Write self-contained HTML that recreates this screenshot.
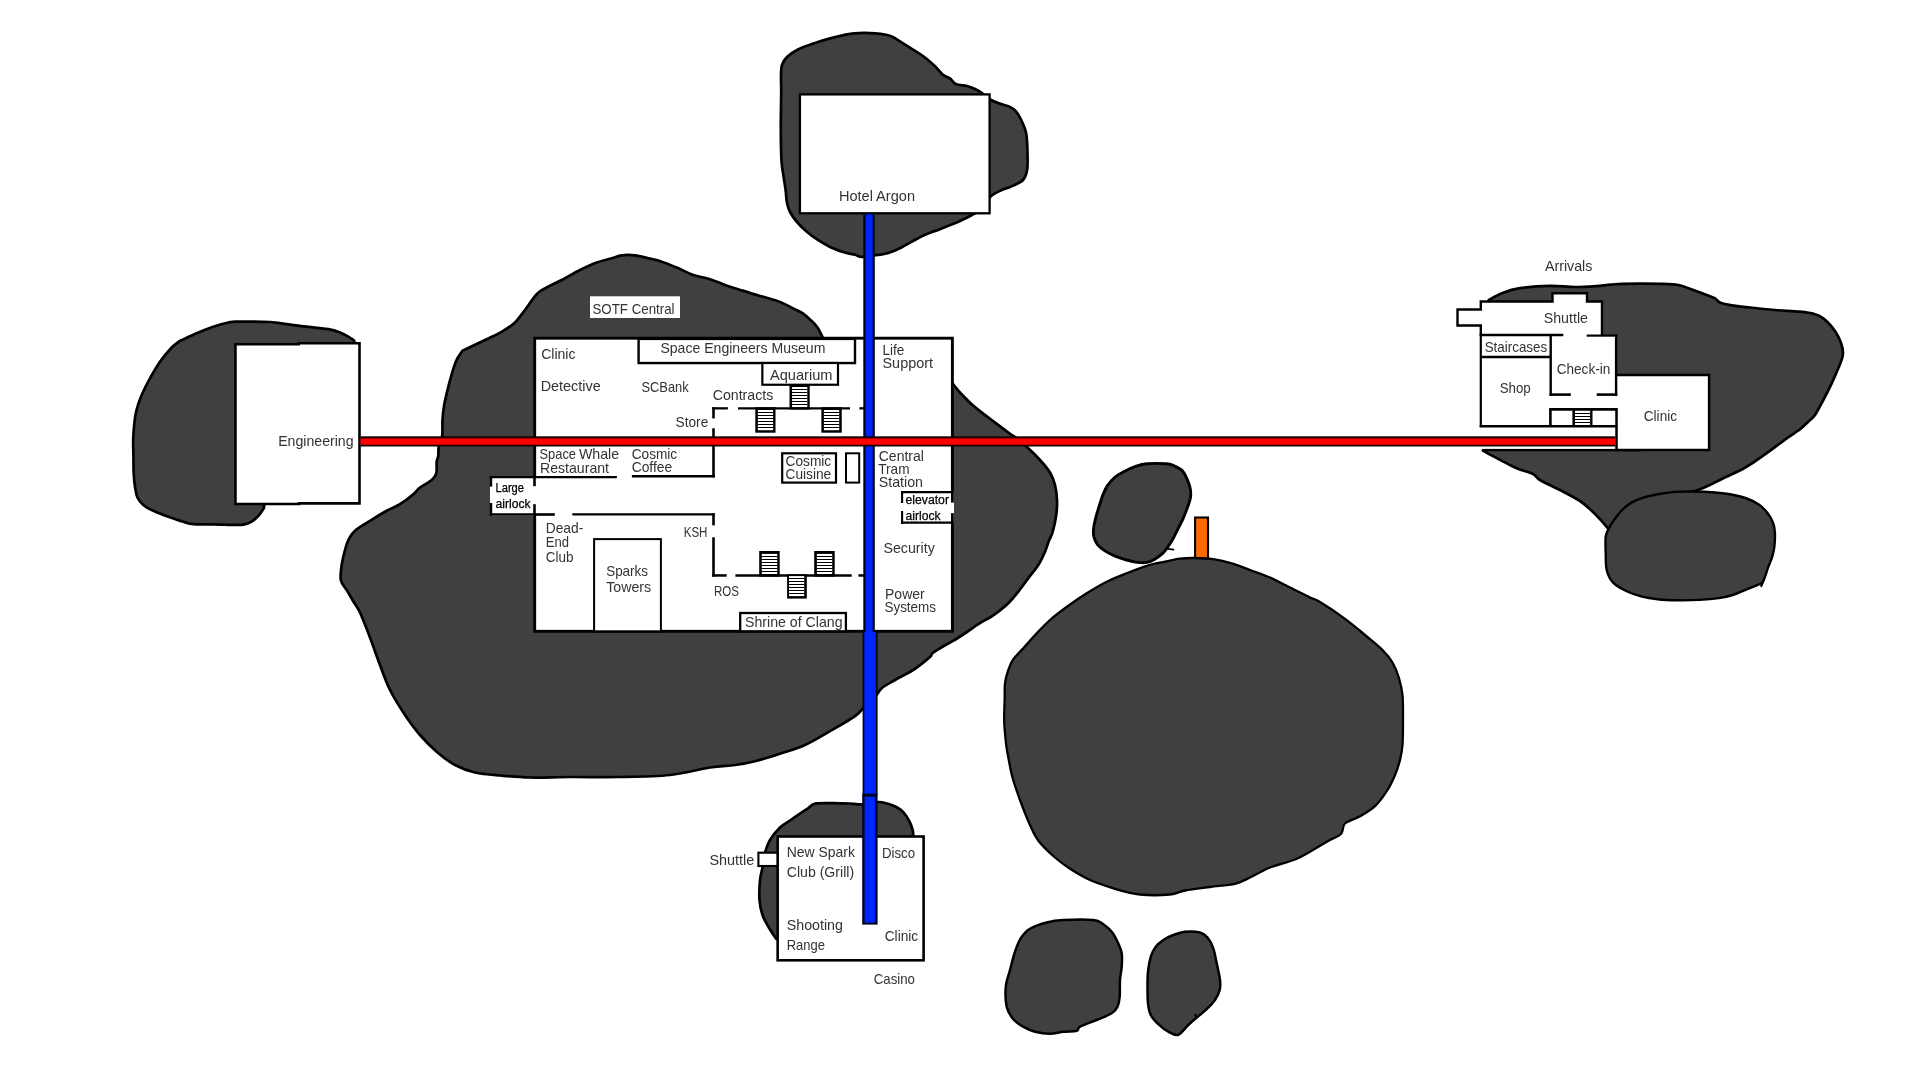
<!DOCTYPE html>
<html><head><meta charset="utf-8"><title>SOTF Station Map</title>
<style>
html,body{margin:0;padding:0;background:#fff;}
body{width:1920px;height:1080px;overflow:hidden;}
svg{display:block;font-family:"Liberation Sans",sans-serif;will-change:transform;}
</style></head><body>
<svg width="1920" height="1080" viewBox="0 0 1920 1080">
<rect width="1920" height="1080" fill="#fff"/>
<path d="M781.2,90.0C781.2,81.8 780.9,80.2 781.0,76.0C781.1,71.8 781.0,68.2 782.0,65.0C783.0,61.8 784.3,59.6 787.0,57.0C789.7,54.4 793.3,51.8 798.0,49.5C802.7,47.2 809.2,45.0 815.0,43.0C820.8,41.0 826.5,39.2 833.0,37.6C839.5,36.0 846.9,34.1 854.0,33.4C861.1,32.7 869.3,32.9 875.5,33.4C881.7,33.9 886.1,34.3 891.0,36.2C895.9,38.1 899.7,41.3 905.0,44.6C910.3,47.9 918.1,52.5 923.0,56.0C927.9,59.5 931.2,62.6 934.5,65.7C937.8,68.8 940.4,72.7 943.0,74.8C945.6,76.9 947.9,76.9 950.0,78.4C952.1,79.9 952.8,82.7 955.6,84.0C958.4,85.3 963.8,85.2 967.0,86.0C970.2,86.8 972.5,87.8 975.0,89.0C977.5,90.2 979.5,91.2 982.0,93.0C984.5,94.8 987.3,97.8 990.0,99.5C992.7,101.2 994.8,101.8 998.0,103.0C1001.2,104.2 1006.0,105.1 1009.0,106.5C1012.0,107.9 1013.9,109.0 1016.0,111.4C1018.1,113.8 1020.0,117.5 1021.7,121.0C1023.4,124.5 1025.1,128.2 1026.0,132.5C1026.9,136.8 1027.1,140.6 1027.3,146.6C1027.5,152.6 1028.0,162.9 1027.3,168.5C1026.6,174.1 1025.7,177.0 1023.0,180.0C1020.3,183.0 1014.7,184.8 1011.0,186.6C1007.3,188.3 1004.2,188.8 1000.7,190.5C997.2,192.2 992.6,194.2 990.0,197.0C987.4,199.8 988.0,204.0 985.0,207.0C982.0,210.0 976.2,212.7 972.0,215.0C967.8,217.3 963.9,219.2 960.0,221.0C956.1,222.8 952.2,224.2 948.8,225.6C945.3,227.0 942.5,228.2 939.4,229.4C936.3,230.6 933.1,231.4 930.0,232.7C926.9,233.9 923.7,235.3 920.6,236.9C917.5,238.5 914.4,240.3 911.2,242.0C908.1,243.7 905.0,245.6 901.9,247.2C898.8,248.8 895.6,250.2 892.5,251.4C889.4,252.6 886.0,253.6 883.0,254.2C880.0,254.8 878.3,254.8 874.7,255.2C871.1,255.6 864.9,256.8 861.6,256.8C858.3,256.7 857.7,255.4 855.0,254.7C852.3,254.0 849.7,254.1 845.6,252.8C841.5,251.6 835.3,249.4 830.6,247.2C825.9,245.0 821.6,242.4 817.5,239.7C813.4,237.0 809.7,234.2 806.2,231.2C802.8,228.3 799.7,225.1 797.0,222.0C794.3,218.9 792.0,215.7 790.3,212.5C788.6,209.3 787.8,206.8 787.0,203.0C786.2,199.2 786.2,194.5 785.6,190.0C785.0,185.5 784.2,180.9 783.5,176.0C782.8,171.1 782.0,169.2 781.5,160.7C781.0,152.2 780.8,136.8 780.8,125.0C780.8,113.2 781.2,98.2 781.2,90.0Z" fill="#404040" stroke="#000" stroke-width="2.7" stroke-linejoin="round" stroke-linecap="round"/>
<path d="M180.0,340.8C182.8,339.6 191.1,335.7 196.7,333.3C202.2,330.9 208.0,328.5 213.3,326.7C218.6,324.9 224.4,323.3 228.3,322.5C232.2,321.7 229.8,321.8 236.7,321.7C243.6,321.6 261.7,321.6 270.0,322.0C278.3,322.4 281.1,323.5 286.7,324.2C292.2,324.9 296.4,325.5 303.3,326.3C310.2,327.1 322.2,328.2 328.3,329.2C334.4,330.2 336.7,331.2 340.0,332.5C343.3,333.8 345.9,335.3 348.3,336.7C350.7,338.1 353.2,340.0 354.2,340.6L355.0,346.0L350.0,400.0L300.0,500.0L265.0,500.0L263.8,508.3C262.9,509.6 260.3,513.6 258.3,515.8C256.3,518.0 254.2,520.2 251.7,521.7C249.2,523.2 246.6,524.2 243.3,524.7C240.0,525.2 236.7,524.9 231.7,524.8C226.7,524.7 219.7,524.4 213.3,524.3C206.9,524.2 198.3,524.6 193.3,524.2C188.3,523.8 187.5,523.0 183.3,521.7C179.1,520.5 173.3,518.5 168.3,516.7C163.3,514.9 157.5,512.8 153.3,510.8C149.1,508.9 145.9,507.2 143.3,505.0C140.7,502.8 138.9,500.6 137.5,497.5C136.1,494.4 135.6,490.7 135.0,486.7C134.4,482.7 134.0,478.6 133.7,473.3C133.4,468.0 133.5,461.1 133.4,455.0C133.3,448.9 132.9,443.6 133.3,436.7C133.7,429.8 134.4,420.2 135.8,413.3C137.2,406.4 139.3,400.8 141.7,395.0C144.1,389.2 146.9,383.9 150.0,378.3C153.1,372.8 156.4,366.8 160.0,361.7C163.6,356.6 168.4,351.0 171.7,347.5C175.0,344.0 178.6,341.9 180.0,340.8Z" fill="#404040" stroke="#000" stroke-width="2.7" stroke-linejoin="round" stroke-linecap="round"/>
<path d="M462.5,350.8C466.5,348.9 479.9,342.5 486.7,339.2C493.5,335.9 498.6,333.6 503.3,330.8C508.0,328.0 511.4,326.0 515.0,322.5C518.6,319.0 521.4,314.7 525.0,310.0C528.6,305.3 533.1,297.9 536.7,294.2C540.3,290.4 542.3,290.0 546.7,287.5C551.1,285.0 557.8,282.1 563.3,279.2C568.8,276.3 574.4,272.8 580.0,270.0C585.6,267.2 591.4,264.4 596.7,262.5C602.0,260.6 607.5,259.5 611.7,258.3C615.9,257.1 617.8,255.8 621.7,255.3C625.6,254.8 630.6,254.8 635.0,255.3C639.4,255.8 643.8,257.2 648.3,258.3C652.8,259.4 657.0,260.2 661.7,261.7C666.4,263.2 671.4,265.3 676.7,267.5C682.0,269.7 687.8,273.1 693.3,275.0C698.8,276.9 704.7,277.5 710.0,279.2C715.3,280.9 719.6,283.1 725.0,285.0C730.4,286.9 736.5,288.7 742.5,290.6C748.5,292.5 755.0,294.4 761.2,296.2C767.5,298.1 774.8,299.9 780.0,301.9C785.2,303.9 788.8,306.2 792.5,308.1C796.2,310.0 799.4,311.0 802.5,313.1C805.6,315.2 808.8,318.2 811.2,320.6C813.8,323.0 815.6,324.8 817.5,327.5C819.4,330.2 821.1,334.1 822.5,337.0C823.9,339.9 825.4,343.7 826.0,345.0L900.0,360.0L950.0,381.0C950.6,381.7 952.1,383.1 953.8,385.0C955.4,386.9 956.9,389.2 960.0,392.5C963.1,395.8 967.5,400.6 972.5,405.0C977.5,409.4 983.8,414.0 990.0,418.8C996.2,423.5 1005.8,430.7 1010.0,433.8C1014.2,436.8 1012.1,434.7 1015.0,437.0C1017.9,439.3 1023.3,443.7 1027.5,447.5C1031.7,451.3 1036.2,455.8 1040.0,460.0C1043.8,464.2 1047.5,468.3 1050.0,472.5C1052.5,476.7 1053.8,480.4 1055.0,485.0C1056.2,489.6 1056.8,495.0 1057.0,500.0C1057.2,505.0 1057.0,509.6 1056.2,515.0C1055.5,520.4 1053.7,528.3 1052.5,532.5C1051.3,536.7 1050.5,536.8 1049.2,540.0C1048.0,543.2 1046.8,547.5 1045.0,551.7C1043.2,555.9 1041.1,560.6 1038.3,565.0C1035.5,569.4 1031.6,573.8 1028.3,578.3C1025.0,582.8 1021.6,587.5 1018.3,591.7C1015.0,595.9 1011.6,600.0 1008.3,603.3C1005.0,606.6 1001.3,609.3 998.3,611.7C995.2,614.1 993.3,615.5 990.0,617.5C986.7,619.5 982.7,621.2 978.8,623.8C974.8,626.2 970.6,629.6 966.2,632.5C961.9,635.4 956.7,638.8 952.5,641.2C948.3,643.8 944.6,645.5 941.2,647.5C937.9,649.5 934.4,651.5 932.5,653.1C930.6,654.7 932.9,654.4 930.0,657.0C927.1,659.6 920.8,664.9 915.0,668.8C909.2,672.6 900.4,676.9 895.0,680.0C889.6,683.1 885.5,685.1 882.5,687.5C879.5,689.9 877.9,693.3 877.0,694.5L862.5,708.8C861.2,710.0 860.4,712.5 855.0,716.2C849.6,720.0 838.3,726.5 830.0,731.2C821.7,736.0 813.3,741.2 805.0,745.0C796.7,748.8 788.3,751.0 780.0,753.8C771.7,756.5 762.5,759.4 755.0,761.2C747.5,763.1 742.5,764.0 735.0,765.0C727.5,766.0 720.8,765.8 710.0,767.5C699.2,769.2 685.0,773.4 670.0,775.0C655.0,776.6 636.7,776.7 620.0,777.0C603.3,777.3 585.0,776.9 570.0,777.0C555.0,777.1 541.7,777.8 530.0,777.5C518.3,777.2 509.2,776.3 500.0,775.5C490.8,774.7 482.5,774.2 475.0,772.5C467.5,770.8 461.2,768.3 455.0,765.0C448.8,761.7 443.3,757.5 437.5,752.5C431.7,747.5 425.4,741.2 420.0,735.0C414.6,728.8 410.0,722.5 405.0,715.0C400.0,707.5 394.2,698.3 390.0,690.0C385.8,681.7 383.3,673.8 380.0,665.0C376.7,656.2 373.3,646.2 370.0,637.5C366.7,628.8 362.9,618.8 360.0,612.5C357.1,606.2 354.7,603.8 352.5,600.0C350.3,596.2 348.6,593.3 346.7,590.0C344.8,586.7 341.6,584.2 340.8,580.0C340.0,575.8 341.0,570.0 341.7,565.0C342.4,560.0 343.8,554.5 345.0,550.0C346.2,545.5 347.4,541.6 349.2,538.3C351.0,535.0 352.3,532.9 355.8,530.0C359.3,527.1 364.9,524.0 370.0,520.8C375.1,517.6 381.7,513.6 386.7,510.8C391.7,508.0 395.6,507.0 400.0,504.2C404.4,501.4 410.0,497.0 413.3,494.2C416.6,491.4 416.9,489.9 420.0,487.5C423.1,485.1 429.0,482.4 431.7,480.0C434.4,477.6 435.5,476.4 436.3,473.3C437.1,470.2 436.4,464.6 436.7,461.7C437.0,458.8 438.0,458.3 438.3,455.8C438.6,453.3 438.1,450.0 438.7,446.7C439.3,443.4 441.6,440.2 442.2,435.8C442.8,431.4 442.2,425.1 442.5,420.0C442.8,414.9 443.1,411.1 444.2,405.0C445.3,398.9 447.3,390.5 449.2,383.3C451.1,376.1 453.6,367.1 455.8,361.7C458.0,356.3 461.4,352.6 462.5,350.8Z" fill="#404040" stroke="#000" stroke-width="2.7" stroke-linejoin="round" stroke-linecap="round"/>
<path d="M1147.0,463.7C1152.0,463.3 1161.9,463.4 1166.3,463.7C1170.7,464.0 1170.8,464.3 1173.5,465.5C1176.2,466.7 1180.3,468.5 1182.6,470.9C1184.9,473.3 1186.1,476.8 1187.4,479.9C1188.7,483.0 1189.9,486.5 1190.4,489.5C1190.9,492.5 1190.9,495.0 1190.4,498.0C1189.9,501.0 1188.6,504.2 1187.4,507.6C1186.2,511.0 1184.9,514.6 1183.2,518.4C1181.5,522.2 1179.0,526.9 1177.2,530.5C1175.4,534.1 1173.9,537.3 1172.3,540.1C1170.7,542.9 1169.1,545.1 1167.5,547.3C1165.9,549.5 1164.9,551.4 1162.7,553.4C1160.5,555.4 1156.9,557.9 1154.3,559.4C1151.7,560.9 1149.8,561.9 1147.0,562.4C1144.2,562.9 1140.8,562.8 1137.4,562.4C1134.0,562.0 1130.4,561.1 1126.6,560.0C1122.8,558.9 1118.1,557.3 1114.5,555.8C1110.9,554.3 1107.7,552.7 1104.9,550.9C1102.1,549.1 1099.5,547.1 1097.7,544.9C1095.9,542.7 1094.8,540.3 1094.1,537.7C1093.4,535.1 1093.2,532.7 1093.5,529.3C1093.8,525.9 1094.9,521.2 1095.9,517.2C1096.9,513.2 1098.3,509.0 1099.5,505.2C1100.7,501.4 1101.8,497.6 1103.1,494.4C1104.4,491.2 1105.4,488.7 1107.3,485.9C1109.2,483.1 1111.7,479.9 1114.5,477.5C1117.3,475.1 1120.6,473.4 1124.2,471.5C1127.8,469.6 1132.4,467.4 1136.2,466.1C1140.0,464.8 1142.0,464.1 1147.0,463.7Z" fill="#404040" stroke="#000" stroke-width="2.9" stroke-linejoin="round" stroke-linecap="round"/>
<path d="M1166.5,548.6L1173.5,549.6" stroke="#000" stroke-width="1.8" fill="none" stroke-linecap="round"/>
<rect x="1195.1" y="517.5" width="12.9" height="42.5" fill="#FF6A00" stroke="#000" stroke-width="2.1"/>
<path d="M1005.0,683.3C1005.6,678.6 1006.9,674.0 1008.3,670.0C1009.7,666.0 1010.8,662.8 1013.3,659.2C1015.8,655.6 1019.4,652.6 1023.3,648.3C1027.2,644.0 1032.2,638.0 1036.7,633.3C1041.2,628.6 1044.7,624.6 1050.0,620.0C1055.3,615.4 1062.2,610.2 1068.3,605.8C1074.4,601.3 1080.3,597.3 1086.7,593.3C1093.1,589.3 1100.0,585.0 1106.7,581.7C1113.4,578.4 1120.0,575.9 1126.7,573.3C1133.4,570.6 1140.3,567.7 1146.7,565.8C1153.1,563.9 1159.5,562.9 1165.0,561.7C1170.5,560.5 1175.0,559.3 1180.0,558.7C1185.0,558.1 1189.5,557.9 1195.0,558.0C1200.5,558.1 1207.2,558.3 1213.3,559.2C1219.4,560.1 1225.6,561.5 1231.7,563.3C1237.8,565.1 1243.6,567.6 1250.0,570.0C1256.4,572.4 1263.3,574.6 1270.0,577.5C1276.7,580.4 1283.3,584.2 1290.0,587.5C1296.7,590.8 1305.0,595.1 1310.0,597.5C1315.0,599.9 1314.2,598.5 1320.0,602.0C1325.8,605.5 1337.5,613.2 1345.0,618.8C1352.5,624.2 1358.8,629.8 1365.0,635.0C1371.2,640.2 1377.9,645.4 1382.5,650.0C1387.1,654.6 1389.8,657.9 1392.5,662.5C1395.2,667.1 1397.1,672.1 1398.8,677.5C1400.4,682.9 1401.8,687.9 1402.5,695.0C1403.2,702.1 1403.0,711.7 1403.0,720.0C1403.0,728.3 1403.0,738.3 1402.5,745.0C1402.0,751.7 1401.2,755.0 1400.0,760.0C1398.8,765.0 1397.1,770.0 1395.0,775.0C1392.9,780.0 1390.8,784.8 1387.5,790.0C1384.2,795.2 1379.6,801.9 1375.0,806.2C1370.4,810.6 1365.0,813.4 1360.0,816.2C1355.0,819.1 1348.1,820.6 1345.0,823.5C1341.9,826.4 1343.8,831.0 1341.2,833.8C1338.8,836.5 1334.4,837.5 1330.0,840.0C1325.6,842.5 1320.8,845.5 1315.0,848.8C1309.2,852.0 1302.5,856.4 1295.0,859.5C1287.5,862.6 1277.5,864.5 1270.0,867.5C1262.5,870.5 1255.8,874.8 1250.0,877.5C1244.2,880.2 1241.7,882.2 1235.0,883.8C1228.3,885.3 1218.3,885.9 1210.0,887.0C1201.7,888.1 1191.7,889.2 1185.0,890.5C1178.3,891.8 1177.5,893.8 1170.0,894.5C1162.5,895.2 1149.2,895.5 1140.0,894.5C1130.8,893.5 1123.3,891.2 1115.0,888.8C1106.7,886.3 1097.5,883.3 1090.0,880.0C1082.5,876.7 1075.8,872.5 1070.0,868.8C1064.2,865.0 1060.2,862.1 1055.0,857.5C1049.8,852.9 1042.9,846.7 1038.8,841.2C1034.6,835.8 1033.1,831.9 1030.0,825.0C1026.9,818.1 1022.9,807.9 1020.0,800.0C1017.1,792.1 1014.4,784.2 1012.5,777.5C1010.6,770.8 1009.8,765.4 1008.8,760.0C1007.7,754.6 1007.0,751.3 1006.2,745.0C1005.5,738.7 1004.5,729.8 1004.2,722.0C1003.9,714.2 1004.6,704.8 1004.7,698.3C1004.8,691.8 1004.4,688.0 1005.0,683.3Z" fill="#404040" stroke="#000" stroke-width="2.3" stroke-linejoin="round" stroke-linecap="round"/>
<path d="M1063.3,920.0C1071.1,919.6 1086.6,919.3 1093.3,920.0C1100.0,920.7 1100.2,922.2 1103.3,924.2C1106.4,926.2 1109.3,928.8 1111.7,931.7C1114.1,934.6 1115.8,938.1 1117.5,941.7C1119.2,945.3 1121.0,949.1 1121.7,953.3C1122.4,957.5 1122.0,962.2 1121.7,966.7C1121.4,971.2 1120.3,975.0 1120.0,980.0C1119.7,985.0 1120.1,992.2 1119.7,996.7C1119.3,1001.2 1118.8,1003.9 1117.5,1006.7C1116.2,1009.5 1115.2,1011.1 1111.7,1013.3C1108.2,1015.5 1102.0,1017.8 1096.7,1020.0C1091.4,1022.2 1083.3,1024.9 1080.0,1026.7C1076.7,1028.5 1079.5,1030.0 1076.7,1030.8C1073.9,1031.6 1067.8,1031.2 1063.3,1031.7C1058.8,1032.2 1054.7,1033.8 1050.0,1033.8C1045.3,1033.8 1039.7,1033.0 1035.0,1031.7C1030.3,1030.4 1025.5,1028.0 1021.7,1025.8C1018.0,1023.6 1015.0,1021.5 1012.5,1018.3C1010.0,1015.1 1007.8,1012.0 1006.7,1006.7C1005.6,1001.4 1005.2,992.8 1005.8,986.7C1006.3,980.6 1008.5,975.8 1010.0,970.0C1011.5,964.2 1013.2,957.0 1015.0,951.7C1016.8,946.4 1018.4,942.0 1020.8,938.3C1023.2,934.5 1024.9,931.8 1029.2,929.2C1033.5,926.6 1041.0,924.0 1046.7,922.5C1052.4,921.0 1055.5,920.4 1063.3,920.0Z" fill="#404040" stroke="#000" stroke-width="2.5" stroke-linejoin="round" stroke-linecap="round"/>
<path d="M1185.0,931.7C1189.5,931.3 1196.2,931.5 1200.0,932.5C1203.8,933.5 1205.3,934.9 1207.5,937.5C1209.7,940.1 1211.8,944.0 1213.3,948.3C1214.8,952.6 1215.6,958.0 1216.7,963.3C1217.8,968.6 1219.5,975.5 1220.0,980.0C1220.5,984.5 1220.5,986.7 1219.7,990.0C1218.9,993.3 1217.2,996.8 1215.0,1000.0C1212.8,1003.2 1209.8,1006.3 1206.7,1009.2C1203.7,1012.1 1199.8,1014.9 1196.7,1017.5C1193.6,1020.1 1191.4,1022.1 1188.3,1025.0C1185.2,1027.9 1181.6,1033.6 1178.3,1034.7C1175.0,1035.8 1171.6,1033.5 1168.3,1031.7C1165.0,1030.0 1161.2,1027.0 1158.3,1024.2C1155.4,1021.4 1152.5,1018.5 1150.8,1015.0C1149.1,1011.5 1148.5,1008.3 1148.0,1003.3C1147.5,998.3 1147.5,990.3 1147.5,985.0C1147.5,979.7 1147.5,976.4 1148.0,971.7C1148.5,967.0 1149.5,960.9 1150.8,956.7C1152.1,952.5 1153.7,949.5 1155.8,946.7C1157.9,943.9 1160.4,942.0 1163.3,940.0C1166.2,938.0 1169.7,936.4 1173.3,935.0C1176.9,933.6 1180.5,932.1 1185.0,931.7Z" fill="#404040" stroke="#000" stroke-width="2.5" stroke-linejoin="round" stroke-linecap="round"/>
<path d="M1196.5,1017.5L1195,1014" stroke="#000" stroke-width="2" fill="none"/>
<path d="M765.0,852.5C765.8,850.4 767.5,844.2 770.0,840.0C772.5,835.8 776.7,830.8 780.0,827.5C783.3,824.2 786.7,822.8 790.0,820.5C793.3,818.2 797.0,815.7 800.0,813.7C803.0,811.7 805.3,810.0 808.0,808.3C810.7,806.6 810.7,804.2 816.0,803.4C821.3,802.6 834.3,803.3 840.0,803.3C845.7,803.3 846.3,803.3 850.0,803.5C853.7,803.7 857.4,804.6 862.0,804.4C866.6,804.1 873.5,802.1 877.8,802.0C882.1,801.9 884.8,802.9 888.0,803.8C891.2,804.7 894.6,806.0 897.2,807.5C899.8,809.0 901.7,810.4 903.7,812.6C905.7,814.9 907.8,818.2 909.2,821.0C910.7,823.8 911.8,826.8 912.5,829.3C913.2,831.8 913.2,834.9 913.4,836.0L900.0,900.0L790.0,940.0L776.2,938.8C775.0,936.9 771.0,931.5 768.8,927.5C766.5,923.5 764.0,919.6 762.5,915.0C761.0,910.4 759.9,905.8 759.5,900.0C759.1,894.2 759.5,885.4 760.0,880.0C760.5,874.6 761.7,872.1 762.5,867.5C763.3,862.9 764.6,855.0 765.0,852.5Z" fill="#404040" stroke="#000" stroke-width="2.7" stroke-linejoin="round" stroke-linecap="round"/>
<path d="M1488.8,300.0C1491.0,298.8 1497.3,295.0 1502.5,293.0C1507.7,291.0 1512.1,289.4 1520.0,288.2C1527.9,287.0 1540.8,286.0 1550.0,285.8C1559.2,285.6 1566.7,287.0 1575.0,287.0C1583.3,287.0 1592.2,286.3 1600.0,285.8C1607.8,285.3 1611.2,284.1 1621.7,283.8C1632.2,283.5 1653.9,283.6 1663.3,283.8C1672.7,284.0 1673.3,284.0 1678.3,285.0C1683.3,286.0 1688.6,288.3 1693.3,290.0C1698.0,291.7 1703.1,293.6 1706.7,295.0C1710.3,296.4 1712.8,297.1 1715.0,298.3C1717.2,299.6 1717.2,301.3 1720.0,302.5C1722.8,303.7 1726.7,304.5 1731.7,305.3C1736.7,306.1 1742.8,306.7 1750.0,307.5C1757.2,308.3 1766.7,309.3 1775.0,310.0C1783.3,310.7 1793.3,311.0 1800.0,311.7C1806.7,312.4 1811.1,313.1 1815.0,314.2C1818.9,315.3 1820.5,316.2 1823.3,318.3C1826.1,320.4 1829.2,323.6 1831.7,326.7C1834.2,329.8 1836.5,333.1 1838.3,336.7C1840.1,340.3 1841.8,345.0 1842.5,348.3C1843.2,351.6 1843.2,353.4 1842.5,356.7C1841.8,360.0 1840.1,363.9 1838.3,368.3C1836.5,372.7 1834.2,378.0 1831.7,383.3C1829.2,388.6 1826.1,394.7 1823.3,400.0C1820.5,405.3 1817.5,411.4 1815.0,415.0C1812.5,418.6 1810.8,419.3 1808.3,421.7C1805.8,424.1 1803.6,426.4 1800.0,429.2C1796.4,432.0 1791.2,435.1 1786.7,438.3C1782.2,441.5 1779.0,444.2 1773.3,448.3C1767.6,452.4 1757.8,459.5 1752.5,463.0C1747.2,466.5 1746.2,467.2 1741.8,469.5C1737.3,471.8 1731.2,474.4 1725.8,477.0C1720.4,479.6 1713.8,483.1 1709.2,485.3C1704.6,487.5 1701.0,489.0 1698.0,490.1C1695.0,491.2 1692.2,491.5 1691.0,491.8L1650.0,520.0L1608.5,529.0C1607.0,527.3 1602.3,521.7 1599.4,518.6C1596.5,515.5 1594.3,513.2 1591.1,510.3C1587.9,507.4 1585.2,504.4 1580.0,501.0C1574.8,497.6 1566.7,493.5 1560.0,490.0C1553.3,486.5 1544.6,482.7 1540.0,480.0C1535.4,477.3 1536.7,475.8 1532.5,473.8C1528.3,471.7 1523.2,471.3 1515.0,467.5C1506.8,463.7 1488.3,453.5 1483.0,450.8L1483.0,450.0L1640.0,450.0L1640.0,420.0L1490.0,420.0L1488.8,300.0Z" fill="#404040" stroke="#000" stroke-width="2.7" stroke-linejoin="round" stroke-linecap="round"/>
<path d="M1608.5,529.0C1609.9,526.2 1611.8,523.1 1614.0,520.0C1616.2,516.9 1618.8,513.2 1621.7,510.3C1624.6,507.4 1627.9,504.7 1631.4,502.6C1634.9,500.5 1638.1,499.2 1642.5,497.8C1646.9,496.4 1652.5,495.3 1657.8,494.3C1663.1,493.3 1668.9,492.4 1674.4,491.9C1680.0,491.4 1684.8,491.4 1691.1,491.5C1697.3,491.6 1705.4,491.7 1711.9,492.2C1718.4,492.7 1724.2,493.2 1730.0,494.3C1735.8,495.4 1741.8,496.8 1746.7,498.5C1751.6,500.2 1755.7,502.3 1759.2,504.7C1762.7,507.1 1765.2,510.1 1767.5,513.1C1769.8,516.1 1771.9,519.6 1773.1,522.8C1774.3,526.0 1774.7,528.6 1774.9,532.5C1775.1,536.4 1774.8,542.5 1774.4,546.4C1774.0,550.3 1773.4,552.6 1772.4,556.1C1771.4,559.6 1769.4,564.0 1768.2,567.2C1767.0,570.5 1766.4,573.1 1765.4,575.6C1764.5,578.1 1763.8,581.0 1762.5,582.5C1761.2,584.0 1760.4,583.6 1757.8,584.8C1755.2,585.9 1750.9,587.7 1746.7,589.4C1742.5,591.1 1737.4,593.5 1732.8,595.0C1728.2,596.5 1724.5,597.3 1718.9,598.1C1713.3,598.9 1706.4,599.5 1699.4,599.9C1692.5,600.3 1684.1,600.4 1677.2,600.3C1670.3,600.2 1663.8,599.9 1657.8,599.2C1651.8,598.6 1646.2,597.7 1641.1,596.4C1636.0,595.1 1631.4,593.4 1627.2,591.5C1623.0,589.6 1619.0,587.5 1616.1,585.3C1613.2,583.1 1611.5,581.1 1609.9,578.3C1608.3,575.5 1607.1,572.8 1606.4,568.6C1605.7,564.4 1605.8,558.6 1605.7,553.3C1605.6,548.0 1605.2,540.8 1605.7,536.7C1606.2,532.7 1607.1,531.8 1608.5,529.0Z" fill="#404040" stroke="#000" stroke-width="2.4" stroke-linejoin="round" stroke-linecap="round"/>
<path d="M1763.5,580.5L1761.3,586" stroke="#000" stroke-width="2.2" fill="none" stroke-linecap="round"/>
<rect x="799.90" y="94.40" width="189.70" height="118.90" fill="#fff" stroke="#000" stroke-width="2.3"/>
<text x="838.90" y="201.00" font-size="14.5" fill="#333" textLength="76.1" lengthAdjust="spacingAndGlyphs" >Hotel Argon</text>
<path d="M235.45,344.3H298.75V343.2H359.5V503.4H299V504H235.45Z" fill="#fff" stroke="#000" stroke-width="2.6"/>
<text x="278.20" y="446.00" font-size="14.5" fill="#333" textLength="75.4" lengthAdjust="spacingAndGlyphs" >Engineering</text>
<rect x="534.70" y="338.20" width="417.70" height="293.10" fill="#fff" stroke="#000" stroke-width="2.9"/>
<rect x="590.00" y="296.30" width="90.00" height="21.70" fill="#fff"/>
<text x="592.50" y="314.00" font-size="14.5" fill="#333" textLength="82.0" lengthAdjust="spacingAndGlyphs" >SOTF Central</text>
<rect x="490.00" y="476.00" width="47.20" height="40.00" fill="#fff"/>
<path d="M534.50,476.00V486.20" stroke="#000" stroke-width="2.6" fill="none"/>
<path d="M534.50,504.20V516.00" stroke="#000" stroke-width="2.6" fill="none"/>
<path d="M491.00,476.10V486.60" stroke="#000" stroke-width="2.4" fill="none"/>
<path d="M491.00,503.00V515.90" stroke="#000" stroke-width="2.4" fill="none"/>
<path d="M489.80,477.20H536.00" stroke="#000" stroke-width="2.3" fill="none"/>
<path d="M489.80,514.50H536.00" stroke="#000" stroke-width="2.6" fill="none"/>
<text x="495.50" y="492.00" font-size="12" fill="#000" textLength="28.5" lengthAdjust="spacingAndGlyphs" stroke="#000" stroke-width="0.25">Large</text>
<text x="495.50" y="508.00" font-size="12" fill="#000" textLength="35.0" lengthAdjust="spacingAndGlyphs" stroke="#000" stroke-width="0.25">airlock</text>
<rect x="638.60" y="338.90" width="216.40" height="24.15" fill="#fff" stroke="#000" stroke-width="2.4"/>
<text x="660.40" y="353.00" font-size="14.5" fill="#333" textLength="165.0" lengthAdjust="spacingAndGlyphs" >Space Engineers Museum</text>
<rect x="762.35" y="363.00" width="75.65" height="21.75" fill="#fff" stroke="#000" stroke-width="2.2"/>
<text x="770.00" y="380.00" font-size="14.5" fill="#333" textLength="62.5" lengthAdjust="spacingAndGlyphs" >Aquarium</text>
<rect x="789.50" y="384.60" width="20.20" height="24.90" fill="#000"/>
<rect x="792.10" y="387.00" width="15.20" height="20.20" fill="#fff"/>
<rect x="792.10" y="389.00" width="15.20" height="1.00" fill="#000"/>
<rect x="792.10" y="392.00" width="15.20" height="1.00" fill="#000"/>
<rect x="792.10" y="395.00" width="15.20" height="1.00" fill="#000"/>
<rect x="792.10" y="398.00" width="15.20" height="1.00" fill="#000"/>
<rect x="792.10" y="401.00" width="15.20" height="1.00" fill="#000"/>
<rect x="792.10" y="404.00" width="15.20" height="1.00" fill="#000"/>
<rect x="755.30" y="407.20" width="20.20" height="25.50" fill="#000"/>
<rect x="757.90" y="410.00" width="15.20" height="20.20" fill="#fff"/>
<rect x="757.90" y="412.00" width="15.20" height="1.00" fill="#000"/>
<rect x="757.90" y="415.00" width="15.20" height="1.00" fill="#000"/>
<rect x="757.90" y="418.00" width="15.20" height="1.00" fill="#000"/>
<rect x="757.90" y="421.00" width="15.20" height="1.00" fill="#000"/>
<rect x="757.90" y="424.00" width="15.20" height="1.00" fill="#000"/>
<rect x="757.90" y="427.00" width="15.20" height="1.00" fill="#000"/>
<rect x="821.40" y="407.20" width="20.35" height="25.50" fill="#000"/>
<rect x="823.90" y="410.00" width="15.30" height="20.20" fill="#fff"/>
<rect x="823.90" y="412.00" width="15.30" height="1.00" fill="#000"/>
<rect x="823.90" y="415.00" width="15.30" height="1.00" fill="#000"/>
<rect x="823.90" y="418.00" width="15.30" height="1.00" fill="#000"/>
<rect x="823.90" y="421.00" width="15.30" height="1.00" fill="#000"/>
<rect x="823.90" y="424.00" width="15.30" height="1.00" fill="#000"/>
<rect x="823.90" y="427.00" width="15.30" height="1.00" fill="#000"/>
<path d="M712.20,408.35H727.90" stroke="#000" stroke-width="2.3" fill="none"/>
<path d="M738.00,408.35H850.00" stroke="#000" stroke-width="2.3" fill="none"/>
<path d="M859.40,408.35H865.00" stroke="#000" stroke-width="2.3" fill="none"/>
<path d="M713.50,407.20V418.40" stroke="#000" stroke-width="2.6" fill="none"/>
<path d="M713.50,428.30V437.20" stroke="#000" stroke-width="2.6" fill="none"/>
<path d="M713.50,446.00V477.40" stroke="#000" stroke-width="2.6" fill="none"/>
<path d="M535.00,477.20H616.90" stroke="#000" stroke-width="2.3" fill="none"/>
<path d="M631.90,476.20H714.80" stroke="#000" stroke-width="2.6" fill="none"/>
<path d="M535.00,514.50H554.80" stroke="#000" stroke-width="2.6" fill="none"/>
<path d="M572.30,514.40H714.80" stroke="#000" stroke-width="2.4" fill="none"/>
<path d="M713.50,513.25V525.40" stroke="#000" stroke-width="2.6" fill="none"/>
<path d="M713.50,537.30V576.70" stroke="#000" stroke-width="2.6" fill="none"/>
<path d="M712.20,575.45H726.70" stroke="#000" stroke-width="2.5" fill="none"/>
<path d="M735.40,575.45H851.70" stroke="#000" stroke-width="2.5" fill="none"/>
<path d="M858.40,575.45H865.00" stroke="#000" stroke-width="2.5" fill="none"/>
<rect x="759.20" y="551.00" width="20.50" height="25.70" fill="#000"/>
<rect x="761.80" y="553.90" width="15.40" height="20.10" fill="#fff"/>
<rect x="761.80" y="556.00" width="15.40" height="1.00" fill="#000"/>
<rect x="761.80" y="559.00" width="15.40" height="1.00" fill="#000"/>
<rect x="761.80" y="562.00" width="15.40" height="1.00" fill="#000"/>
<rect x="761.80" y="565.00" width="15.40" height="1.00" fill="#000"/>
<rect x="761.80" y="568.00" width="15.40" height="1.00" fill="#000"/>
<rect x="761.80" y="571.00" width="15.40" height="1.00" fill="#000"/>
<rect x="814.20" y="551.00" width="20.50" height="25.70" fill="#000"/>
<rect x="816.90" y="553.90" width="15.30" height="20.10" fill="#fff"/>
<rect x="816.90" y="556.00" width="15.30" height="1.00" fill="#000"/>
<rect x="816.90" y="559.00" width="15.30" height="1.00" fill="#000"/>
<rect x="816.90" y="562.00" width="15.30" height="1.00" fill="#000"/>
<rect x="816.90" y="565.00" width="15.30" height="1.00" fill="#000"/>
<rect x="816.90" y="568.00" width="15.30" height="1.00" fill="#000"/>
<rect x="816.90" y="571.00" width="15.30" height="1.00" fill="#000"/>
<rect x="787.10" y="574.20" width="19.70" height="24.40" fill="#000"/>
<rect x="789.00" y="576.10" width="15.20" height="20.00" fill="#fff"/>
<rect x="789.00" y="578.00" width="15.20" height="1.00" fill="#000"/>
<rect x="789.00" y="581.00" width="15.20" height="1.00" fill="#000"/>
<rect x="789.00" y="584.00" width="15.20" height="1.00" fill="#000"/>
<rect x="789.00" y="587.00" width="15.20" height="1.00" fill="#000"/>
<rect x="789.00" y="590.00" width="15.20" height="1.00" fill="#000"/>
<rect x="789.00" y="593.00" width="15.20" height="1.00" fill="#000"/>
<rect x="594.10" y="539.10" width="66.80" height="92.20" fill="#fff" stroke="#000" stroke-width="2.0"/>
<rect x="740.20" y="613.00" width="105.70" height="18.30" fill="#fff" stroke="#000" stroke-width="2.3"/>
<rect x="782.20" y="453.30" width="53.80" height="29.30" fill="#fff" stroke="#000" stroke-width="2.2"/>
<rect x="846.00" y="453.30" width="13.20" height="29.30" fill="#fff" stroke="#000" stroke-width="2.0"/>
<rect x="902.00" y="492.00" width="51.90" height="31.00" fill="#fff"/>
<rect x="950.00" y="502.60" width="3.90" height="10.50" fill="#fff"/>
<path d="M902.10,491.10V503.00" stroke="#000" stroke-width="2.1" fill="none"/>
<path d="M902.10,511.00V523.90" stroke="#000" stroke-width="2.1" fill="none"/>
<path d="M901.00,492.20H953.00" stroke="#000" stroke-width="2.2" fill="none"/>
<path d="M901.00,522.70H953.00" stroke="#000" stroke-width="2.3" fill="none"/>
<path d="M952.40,491.00V502.60" stroke="#000" stroke-width="2.8" fill="none"/>
<path d="M952.40,513.10V524.00" stroke="#000" stroke-width="2.8" fill="none"/>
<text x="905.50" y="504.00" font-size="12.5" fill="#000" textLength="43.5" lengthAdjust="spacingAndGlyphs" stroke="#000" stroke-width="0.25">elevator</text>
<text x="905.50" y="520.00" font-size="12.5" fill="#000" textLength="35.1" lengthAdjust="spacingAndGlyphs" stroke="#000" stroke-width="0.25">airlock</text>
<text x="541.20" y="359.00" font-size="14.5" fill="#333" textLength="34.3" lengthAdjust="spacingAndGlyphs" >Clinic</text>
<text x="540.70" y="391.00" font-size="14.5" fill="#333" textLength="60.0" lengthAdjust="spacingAndGlyphs" >Detective</text>
<text x="641.50" y="392.00" font-size="14.5" fill="#333" textLength="47.2" lengthAdjust="spacingAndGlyphs" >SCBank</text>
<text x="712.70" y="400.00" font-size="14.5" fill="#333" textLength="60.6" lengthAdjust="spacingAndGlyphs" >Contracts</text>
<text x="675.50" y="427.00" font-size="14.5" fill="#333" textLength="32.8" lengthAdjust="spacingAndGlyphs" >Store</text>
<text x="539.50" y="459.00" font-size="14.5" fill="#333" textLength="36.5" lengthAdjust="spacingAndGlyphs" >Space</text>
<text x="578.90" y="459.00" font-size="14.5" fill="#333" textLength="40.3" lengthAdjust="spacingAndGlyphs" >Whale</text>
<text x="540.00" y="473.00" font-size="14.5" fill="#333" textLength="69.0" lengthAdjust="spacingAndGlyphs" >Restaurant</text>
<text x="631.70" y="459.00" font-size="14.5" fill="#333" textLength="45.5" lengthAdjust="spacingAndGlyphs" >Cosmic</text>
<text x="631.70" y="472.00" font-size="14.5" fill="#333" textLength="40.5" lengthAdjust="spacingAndGlyphs" >Coffee</text>
<text x="785.50" y="466.00" font-size="14.5" fill="#333" textLength="45.7" lengthAdjust="spacingAndGlyphs" >Cosmic</text>
<text x="785.50" y="479.00" font-size="14.5" fill="#333" textLength="45.7" lengthAdjust="spacingAndGlyphs" >Cuisine</text>
<text x="882.50" y="355.00" font-size="14.5" fill="#333" textLength="21.8" lengthAdjust="spacingAndGlyphs" >Life</text>
<text x="882.50" y="368.00" font-size="14.5" fill="#333" textLength="50.5" lengthAdjust="spacingAndGlyphs" >Support</text>
<text x="878.70" y="461.00" font-size="14.5" fill="#333" textLength="45.3" lengthAdjust="spacingAndGlyphs" >Central</text>
<text x="878.30" y="474.00" font-size="14.5" fill="#333" textLength="31.2" lengthAdjust="spacingAndGlyphs" >Tram</text>
<text x="878.70" y="487.00" font-size="14.5" fill="#333" textLength="44.3" lengthAdjust="spacingAndGlyphs" >Station</text>
<text x="883.40" y="553.00" font-size="14.5" fill="#333" textLength="51.4" lengthAdjust="spacingAndGlyphs" >Security</text>
<text x="885.00" y="599.00" font-size="14.5" fill="#333" textLength="39.8" lengthAdjust="spacingAndGlyphs" >Power</text>
<text x="884.40" y="612.00" font-size="14.5" fill="#333" textLength="51.7" lengthAdjust="spacingAndGlyphs" >Systems</text>
<text x="545.70" y="533.00" font-size="14.5" fill="#333" textLength="37.6" lengthAdjust="spacingAndGlyphs" >Dead-</text>
<text x="545.70" y="547.00" font-size="14.5" fill="#333" textLength="23.2" lengthAdjust="spacingAndGlyphs" >End</text>
<text x="545.70" y="562.00" font-size="14.5" fill="#333" textLength="27.7" lengthAdjust="spacingAndGlyphs" >Club</text>
<text x="683.70" y="537.00" font-size="14.5" fill="#333" textLength="23.8" lengthAdjust="spacingAndGlyphs" >KSH</text>
<text x="606.20" y="576.00" font-size="14.5" fill="#333" textLength="41.8" lengthAdjust="spacingAndGlyphs" >Sparks</text>
<text x="606.20" y="592.00" font-size="14.5" fill="#333" textLength="45.0" lengthAdjust="spacingAndGlyphs" >Towers</text>
<text x="714.00" y="596.00" font-size="14.5" fill="#333" textLength="25.0" lengthAdjust="spacingAndGlyphs" >ROS</text>
<text x="745.00" y="627.00" font-size="14.5" fill="#333" textLength="97.5" lengthAdjust="spacingAndGlyphs" >Shrine of Clang</text>
<rect x="777.65" y="836.50" width="145.95" height="123.80" fill="#fff" stroke="#000" stroke-width="2.6"/>
<rect x="758.40" y="852.70" width="19.00" height="13.30" fill="#fff" stroke="#000" stroke-width="2.1"/>
<text x="709.50" y="865.00" font-size="14.5" fill="#333" textLength="44.8" lengthAdjust="spacingAndGlyphs" >Shuttle</text>
<text x="786.70" y="857.00" font-size="14.5" fill="#333" textLength="68.3" lengthAdjust="spacingAndGlyphs" >New Spark</text>
<text x="786.70" y="877.00" font-size="14.5" fill="#333" textLength="67.5" lengthAdjust="spacingAndGlyphs" >Club (Grill)</text>
<text x="882.00" y="858.00" font-size="14.5" fill="#333" textLength="33.1" lengthAdjust="spacingAndGlyphs" >Disco</text>
<text x="786.70" y="930.00" font-size="14.5" fill="#333" textLength="56.3" lengthAdjust="spacingAndGlyphs" >Shooting</text>
<text x="786.70" y="950.00" font-size="14.5" fill="#333" textLength="38.3" lengthAdjust="spacingAndGlyphs" >Range</text>
<text x="884.70" y="941.00" font-size="14.5" fill="#333" textLength="33.5" lengthAdjust="spacingAndGlyphs" >Clinic</text>
<text x="873.70" y="984.00" font-size="14.5" fill="#333" textLength="41.3" lengthAdjust="spacingAndGlyphs" >Casino</text>
<rect x="863.30" y="214.40" width="11.50" height="417.60" fill="#00061c"/>
<rect x="865.70" y="214.40" width="6.85" height="417.60" fill="#0026FF"/>
<rect x="862.60" y="632.00" width="15.00" height="163.20" fill="#00061c"/>
<rect x="864.30" y="632.00" width="11.60" height="163.20" fill="#0026FF"/>
<rect x="862.20" y="793.60" width="15.40" height="131.00" fill="#00061c"/>
<rect x="864.60" y="796.80" width="10.60" height="125.80" fill="#0026FF"/>
<rect x="1457.50" y="309.50" width="24.50" height="16.00" fill="#fff"/>
<rect x="1481.00" y="301.50" width="121.00" height="34.50" fill="#fff"/>
<rect x="1552.50" y="293.00" width="34.50" height="10.00" fill="#fff"/>
<rect x="1481.00" y="335.00" width="135.00" height="91.30" fill="#fff"/>
<rect x="1470.00" y="427.00" width="146.00" height="21.60" fill="#fff"/>
<rect x="1616.00" y="375.00" width="93.00" height="74.50" fill="#fff"/>
<path d="M1480.8,335 V325.5 H1457.5 V309.5 H1480.8 V301.5 H1552.5 V293.2 H1587 V301.5 H1602 V335" fill="none" stroke="#000" stroke-width="2.4"/>
<path d="M1479.60,335.00H1563.30" stroke="#000" stroke-width="2.4" fill="none"/>
<path d="M1586.70,335.60H1617.20" stroke="#000" stroke-width="2.2" fill="none"/>
<path d="M1480.80,335.00V427.00" stroke="#000" stroke-width="2.2" fill="none"/>
<path d="M1480.00,357.00H1550.00" stroke="#000" stroke-width="2.4" fill="none"/>
<path d="M1550.70,335.00V395.80" stroke="#000" stroke-width="2.4" fill="none"/>
<path d="M1616.10,334.60V395.80" stroke="#000" stroke-width="2.4" fill="none"/>
<path d="M1549.50,394.60H1570.80" stroke="#000" stroke-width="2.6" fill="none"/>
<path d="M1596.70,394.60H1617.30" stroke="#000" stroke-width="2.6" fill="none"/>
<path d="M1479.70,426.30H1617.20" stroke="#000" stroke-width="2.4" fill="none"/>
<path d="M1549.50,409.40H1617.20" stroke="#000" stroke-width="2.6" fill="none"/>
<path d="M1550.40,408.10V427.00" stroke="#000" stroke-width="2.6" fill="none"/>
<path d="M1573.70,408.10V427.00" stroke="#000" stroke-width="2.6" fill="none"/>
<path d="M1591.30,408.10V427.00" stroke="#000" stroke-width="2.4" fill="none"/>
<rect x="1575.00" y="413.00" width="15.20" height="1.00" fill="#000"/>
<rect x="1575.00" y="416.00" width="15.20" height="1.00" fill="#000"/>
<rect x="1575.00" y="419.00" width="15.20" height="1.00" fill="#000"/>
<rect x="1575.00" y="422.00" width="15.20" height="1.00" fill="#000"/>
<path d="M1616.5,408.1 V450 M1615.2,375 H1709.1 V449.9 H1615.2" fill="none" stroke="#000" stroke-width="2.5"/>
<text x="1545.00" y="271.00" font-size="14.5" fill="#333" textLength="47.3" lengthAdjust="spacingAndGlyphs" >Arrivals</text>
<text x="1543.70" y="323.00" font-size="14.5" fill="#333" textLength="44.3" lengthAdjust="spacingAndGlyphs" >Shuttle</text>
<text x="1484.70" y="352.00" font-size="14.5" fill="#333" textLength="62.5" lengthAdjust="spacingAndGlyphs" >Staircases</text>
<text x="1556.70" y="374.00" font-size="14.5" fill="#333" textLength="53.6" lengthAdjust="spacingAndGlyphs" >Check-in</text>
<text x="1499.70" y="393.00" font-size="14.5" fill="#333" textLength="31.1" lengthAdjust="spacingAndGlyphs" >Shop</text>
<text x="1643.80" y="421.00" font-size="14.5" fill="#333" textLength="33.2" lengthAdjust="spacingAndGlyphs" >Clinic</text>
<rect x="360.50" y="436.30" width="1254.70" height="10.20" fill="#1c0000"/>
<rect x="360.50" y="438.40" width="1254.70" height="6.30" fill="#FF0000"/>
</svg>
</body></html>
